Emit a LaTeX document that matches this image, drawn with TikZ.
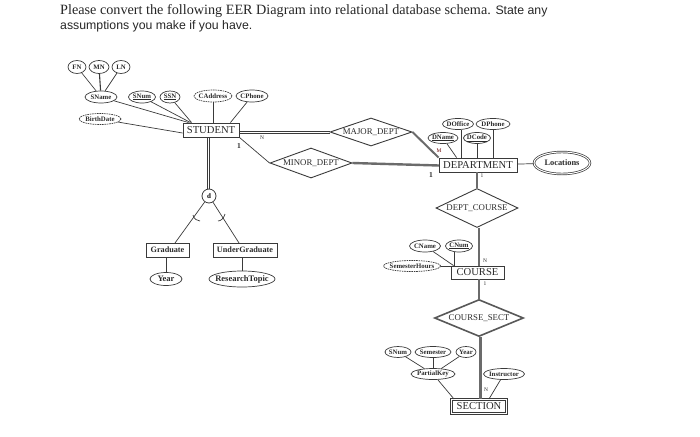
\documentclass[tikz,border=0pt]{standalone}
\usepackage{fontspec}
\setmainfont{Liberation Serif}
\newfontfamily\arialfont{Liberation Sans}
\usetikzlibrary{shapes.geometric, calc}
\definecolor{eerline}{HTML}{3A3A3A}
\definecolor{eertext}{HTML}{2A2A2A}
\tikzset{
  attr/.style={ellipse, draw=eerline, line width=0.7pt, inner sep=0mm, text=eertext, font=\fontsize{6.8}{7}\selectfont\bfseries,
    execute at begin node={\hbox to 0pt\bgroup\hss}, execute at end node={\hss\egroup}},
  dashattr/.style={attr, dash pattern=on 1.6pt off 0.8pt},
  entity/.style={rectangle, draw=eerline, line width=0.9pt, inner sep=0mm, text=eertext, font=\fontsize{10.6}{11}\selectfont},
  subent/.style={entity, font=\fontsize{8.2}{9}\selectfont\bfseries},
  rel/.style={diamond, draw=eerline, line width=0.9pt, inner sep=0mm, text=eertext, font=\fontsize{8.8}{9}\selectfont},
  conn/.style={draw=eerline, line width=0.7pt},
  heavy/.style={draw=eerline!75, line width=2.4pt},
  card/.style={inner sep=0mm, text=eertext, font=\fontsize{5.5}{6}\selectfont},
  cardb/.style={card, font=\fontsize{7.5}{8}\selectfont\bfseries}
}
\begin{document}
\begin{tikzpicture}[x=1pt, y=-1pt]
\useasboundingbox (0,0) rectangle (700,436);

\node[anchor=base west, inner sep=0mm, font=\fontsize{14.2}{15}\selectfont, text=black!85] (line1) at (60,14.5) {Please convert the following EER Diagram into relational database schema. {\arialfont\fontsize{12.3}{15}\selectfont State any}};
\node[anchor=base west, inner sep=0mm, font=\arialfont\fontsize{12.3}{15}\selectfont, text=black!85] (line2) at (60,30) {assumptions you make if you have.};

\node[entity, minimum width=56pt, minimum height=14pt] (student) at (211,130) {STUDENT};
\node[entity, minimum width=78pt, minimum height=14pt] (department) at (478,165) {DEPARTMENT};
\node[entity, minimum width=53pt, minimum height=13pt] (course) at (477.5,272.5) {COURSE};
\node[entity, minimum width=55pt, minimum height=14pt, double=white, double distance=1pt] (section) at (479,406.5) {SECTION};
\node[subent, minimum width=43pt, minimum height=14pt] (graduate) at (167.5,250) {Graduate};
\node[subent, minimum width=64pt, minimum height=14pt] (undergrad) at (245,250) {UnderGraduate};

\node[rel, minimum width=82pt, minimum height=28pt, shape aspect=2.8] (majordept) at (371,132) {MAJOR\_DEPT};
\node[rel, minimum width=82pt, minimum height=30pt, shape aspect=2.8] (minordept) at (311,163) {MINOR\_DEPT};
\node[rel, minimum width=82pt, minimum height=39pt, shape aspect=2.2] (deptcourse) at (477,208) {DEPT\_COURSE};
\node[rel, minimum width=89pt, minimum height=37pt, shape aspect=2.4, line width=1.6pt, draw=eerline!85] (coursesect) at (479,318) {COURSE\_SECT};

\node[circle, draw=eerline, line width=0.8pt, inner sep=0mm, minimum size=14pt, font=\fontsize{7}{7}\selectfont\bfseries] (dnode) at (209,196) {d};

\node[attr, minimum width=18pt, minimum height=13pt] (fn) at (77,67) {FN};
\node[attr, minimum width=20pt, minimum height=13pt] (mn) at (99,67) {MN};
\node[attr, minimum width=18pt, minimum height=13pt] (ln) at (121,67) {LN};
\node[attr, minimum width=32pt, minimum height=12pt] (sname) at (101,97) {SName};
\node[attr, minimum width=27pt, minimum height=12pt] (snum) at (142,97) {\underline{SNum}};
\node[attr, minimum width=20pt, minimum height=12pt] (ssn) at (170,97) {\underline{SSN}};
\node[dashattr, minimum width=38pt, minimum height=12pt] (caddress) at (213,96) {CAddress};
\node[attr, minimum width=32pt, minimum height=12pt] (cphone) at (252,96) {CPhone};
\node[dashattr, minimum width=42pt, minimum height=11pt] (birthdate) at (100,119) {BirthDate};

\node[attr, minimum width=31pt, minimum height=11pt] (doffice) at (458,124) {DOffice};
\node[attr, minimum width=34pt, minimum height=11pt] (dphone) at (493,124) {DPhone};
\node[attr, minimum width=30pt, minimum height=11pt] (dname) at (443,138) {\underline{DName}};
\node[attr, minimum width=27pt, minimum height=11pt] (dcode) at (477,138) {\underline{DCode}};
\node[attr, double=white, double distance=1pt, font=\fontsize{8.4}{9}\selectfont\bfseries, minimum width=56pt, minimum height=22pt] (locations) at (562,163) {Locations};

\node[attr, minimum width=31pt, minimum height=12pt] (cname) at (425,246) {CName};
\node[attr, minimum width=27pt, minimum height=12pt] (cnum) at (459,246) {\underline{CNum}};
\node[dashattr, minimum width=57pt, minimum height=11pt] (semhours) at (412,266) {SemesterHours};

\node[attr, minimum width=26pt, minimum height=11pt] (secsnum) at (398,352) {SNum};
\node[attr, minimum width=36pt, minimum height=11pt] (semester) at (433,352) {Semester};
\node[attr, minimum width=20pt, minimum height=11pt] (secyear) at (466,352) {Year};
\node[attr, minimum width=44pt, minimum height=11pt] (partialkey) at (433,374) {PartialKey};
\node[attr, minimum width=41pt, minimum height=11pt] (instructor) at (504,374) {Instructor};

\node[attr, font=\fontsize{8.5}{9}\selectfont\bfseries, minimum width=32pt, minimum height=13pt] (gradyear) at (166,279) {Year};
\node[attr, font=\fontsize{8.5}{9}\selectfont\bfseries, minimum width=66pt, minimum height=16pt] (research) at (242,279) {ResearchTopic};

\coordinate (stuout) at (239,132);
\coordinate (stubot) at (208.5,137);
\coordinate (minorin) at (439,165.5);
\coordinate (gradtop) at (175,243);
\coordinate (undertop) at (239,243);

\draw[conn] (fn) -- (sname);
\draw[conn, line width=1.1pt] (mn) -- (sname);
\draw[conn] (ln) -- (sname);
\draw[conn] (sname) -- ([xshift=6pt]student.north west);
\draw[conn] (snum) -- ([xshift=8pt]student.north west);
\draw[conn] (ssn) -- ([xshift=9pt]student.north west);
\draw[conn] (caddress) -- (caddress |- student.north);
\draw[conn] (cphone) -- ([xshift=-9pt]student.north east);
\draw[conn] (birthdate) -- ([yshift=-3pt]student.west);

\draw[conn] ([yshift=-1pt]stuout) -- ([yshift=-1pt]majordept.west);
\draw[conn] ([yshift=1pt]stuout) -- ([yshift=1pt]majordept.west);
\draw[conn] (student.south east) -- (minordept.west);
\draw[conn] ([xshift=-1.2pt]stubot) -- ([xshift=-1.2pt]stubot |- dnode.north);
\draw[conn] ([xshift=1.2pt]stubot) -- ([xshift=1.2pt]stubot |- dnode.north);
\draw[heavy, line width=2pt] (majordept.east) -- (department.north west);
\draw[heavy] (minordept.east) -- (minorin);

\draw[conn] (dname) -- ([xshift=18pt]department.north west);
\draw[conn, line width=0.9pt] ([xshift=3pt]doffice.south) -- ([xshift=3pt]doffice.south |- department.north);
\draw[conn, line width=0.9pt] (dcode) -- (dcode |- department.north);
\draw[conn] (dphone) -- (dphone |- department.north);
\draw[conn] (department) -- (locations);

\draw[heavy] (deptcourse.north) -- (department.south -| deptcourse.north);
\draw[heavy] ([xshift=2pt]deptcourse.south) -- ([xshift=2pt]deptcourse.south |- course.north);
\draw[heavy] (coursesect.north) -- (coursesect.north |- course.south);
\draw[heavy, line width=3pt] ([xshift=1pt]coursesect.south) -- ([xshift=1pt]coursesect.south |- section.north);

\draw[conn] (cname) -- ([xshift=3pt]course.north west);
\draw[conn, line width=0.9pt] ([xshift=-5pt]cnum.south) -- ([xshift=-5pt]cnum.south |- course.north);
\draw[conn] (semhours) -- (course.west |- semhours);

\draw[conn] (secsnum) -- (partialkey);
\draw[conn, line width=0.9pt] (semester) -- (partialkey);
\draw[conn] (secyear) -- (partialkey);
\draw[conn] (partialkey) -- ([xshift=3pt]section.north west);
\draw[conn] (instructor) -- ([xshift=-18pt]section.north east);

\draw[conn] (dnode) -- (gradtop);
\draw[conn] (dnode) -- (undertop);
\draw[conn] (graduate.south -| gradyear) -- (gradyear);
\draw[conn] (undergrad.south -| research) -- (research);
\draw[conn] (193,215) .. controls (194,219) and (197,221) .. (200,221);
\draw[conn] (225,214) .. controls (224,218) and (221,221) .. (218,221);

\node[card] (nmajor) at (262,138) {N};
\node[cardb] (onestudent) at (239,146) {1};
\node[card, text=red!40!black] (mdept) at (439,151) {M};
\node[cardb] (onedept) at (431,175) {1};
\node[card] (onedeptb) at (482,176) {1};
\node[card] (ncourse) at (485,261) {N};
\node[card] (onecourse) at (485,284) {1};
\node[card] (nsection) at (486,390) {N};
\end{tikzpicture}
\end{document}
